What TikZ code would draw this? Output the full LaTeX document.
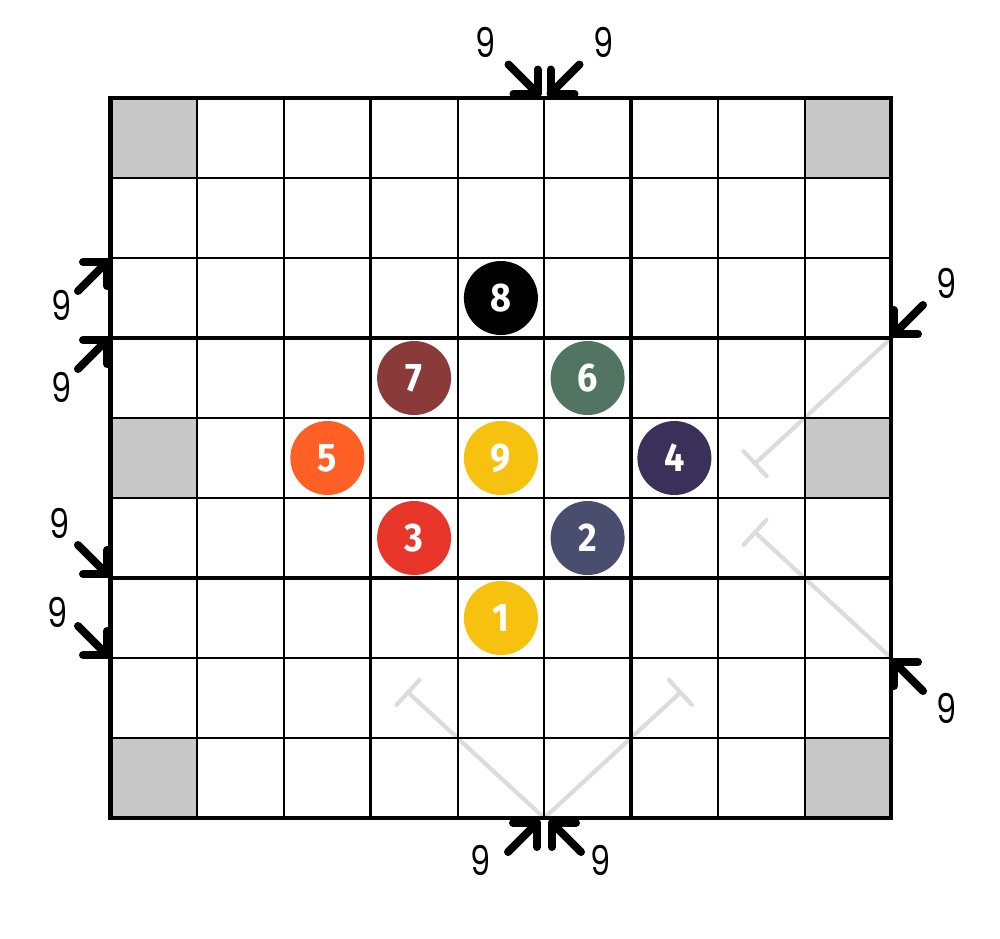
\documentclass[tikz,border=0pt]{standalone}
\usepackage{fontspec}
\usepackage{graphicx}
\setmainfont{Poppins}
\newfontfamily\ballfont{Fira Sans}
\usetikzlibrary{calc}
\definecolor{cellgray}{HTML}{C8C8C8}
\definecolor{linegray}{HTML}{DCDCDC}
\definecolor{cOne}{HTML}{F7C10F}
\definecolor{cTwo}{HTML}{4A4E6E}
\definecolor{cThree}{HTML}{E8352A}
\definecolor{cFour}{HTML}{3B3059}
\definecolor{cFive}{HTML}{FD5F24}
\definecolor{cSix}{HTML}{527563}
\definecolor{cSeven}{HTML}{8B3A3A}
\definecolor{cEight}{HTML}{000000}
\newcommand{\balltxt}[1]{\scalebox{0.9}[1]{#1}}
\newcommand{\cluetxt}[1]{\scalebox{0.78}[1]{#1}}
\begin{document}
\begin{tikzpicture}[x=1pt,y=-1pt,
  thingrid/.style={line width=2pt,black},
  thickgrid/.style={line width=3.2pt,black},
  outergrid/.style={line width=4.4pt,black},
  ball/.style={circle,minimum size=74pt,inner sep=0pt,text=white,
    font=\ballfont\bfseries\fontsize{40}{40}\selectfont},
  cluearrow/.style={line width=8pt,line cap=round,line join=round,black},
  cluelabel/.style={inner sep=0pt,font=\fontsize{41}{41}\selectfont},
  guide/.style={line width=4.2pt,line cap=round,linegray}]
\useasboundingbox (0,0) rectangle (1000,938);
% gray cells
\foreach \i/\j in {0/0,8/0,0/4,8/4,0/8,8/8}
  \fill[cellgray] ({110.5+86.75*\i},{98+80*\j}) rectangle ({110.5+86.75*(\i+1)},{98+80*(\j+1)});
% guide lines
\coordinate (gb) at (544.25,818);
\coordinate (gbl) at ($(gb)+(-136.2,-125.6)$);
\coordinate (gbr) at ($(gb)+(136.2,-125.6)$);
\coordinate (gru) at (891.25,338);
\coordinate (grue) at ($(gru)+(-136.2,125.6)$);
\coordinate (grd) at (891.25,658);
\coordinate (grde) at ($(grd)+(-136.2,-125.6)$);
\draw[guide] (gb) -- (gbl);
\draw[guide] ($(gbl)+(-11.5,12.5)$) -- ($(gbl)+(11.5,-12.5)$);
\draw[guide] (gb) -- (gbr);
\draw[guide] ($(gbr)+(-11.5,-12.5)$) -- ($(gbr)+(11.5,12.5)$);
\draw[guide] (gru) -- (grue);
\draw[guide] ($(grue)+(-11.5,-12.5)$) -- ($(grue)+(11.5,12.5)$);
\draw[guide] (grd) -- (grde);
\draw[guide] ($(grde)+(-11.5,12.5)$) -- ($(grde)+(11.5,-12.5)$);
% grid
\foreach \i in {1,2,4,5,7,8} {
  \draw[thingrid] ({110.5+86.75*\i},98) -- ({110.5+86.75*\i},818);
  \draw[thingrid] (110.5,{98+80*\i}) -- (891.25,{98+80*\i});
}
\foreach \i in {3,6} {
  \draw[thickgrid] ({110.5+86.75*\i},98) -- ({110.5+86.75*\i},818);
  \draw[thickgrid] (110.5,{98+80*\i}) -- (891.25,{98+80*\i});
}
\draw[outergrid] (110.5,98) rectangle (891.25,818);
% balls
\node[ball,fill=cEight] (b8) at (500.9,298) {\balltxt{8}};
\node[ball,fill=cSeven] (b7) at (414.1,378) {\balltxt{7}};
\node[ball,fill=cSix] (b6) at (587.6,378) {\balltxt{6}};
\node[ball,fill=cFive] (b5) at (327.4,458) {\balltxt{5}};
\node[ball,fill=cOne] (b9) at (500.9,458) {\balltxt{9}};
\node[ball,fill=cFour] (b4) at (674.4,458) {\balltxt{4}};
\node[ball,fill=cThree] (b3) at (414.1,538) {\balltxt{3}};
\node[ball,fill=cTwo] (b2) at (587.6,538) {\balltxt{2}};
\node[ball,fill=cOne] (b1) at (500.9,618) {\balltxt{1}};
% clue arrows: tip, tail; arms horizontal and vertical
\foreach \n/\tx/\ty/\sx/\sy in {
  tl/537.5/93.5/-1/-1, tr/550.5/93.5/1/-1,
  la/107/262/-1/1, lb/107/340/-1/1,
  lc/107/574/-1/-1, ld/107/655/-1/-1,
  ra/894/334/1/-1, rb/894/662/1/1,
  bl/537/823/-1/1, br/552/823/1/1} {
  \coordinate (tip\n) at (\tx,\ty);
  \coordinate (tail\n) at ($(tip\n)+(29*\sx,29*\sy)$);
  \draw[cluearrow] (tail\n) -- (tip\n);
  \draw[cluearrow] ($(tip\n)+(24*\sx,0)$) -- (tip\n) -- ($(tip\n)+(0,24*\sy)$);
}
% labels
\node[cluelabel] (ltl) at (486,42) {\cluetxt{9}};
\node[cluelabel] (ltr) at (604,42) {\cluetxt{9}};
\node[cluelabel] (lla) at (62,305) {\cluetxt{9}};
\node[cluelabel] (llb) at (62,387) {\cluetxt{9}};
\node[cluelabel] (llc) at (60,523) {\cluetxt{9}};
\node[cluelabel] (lld) at (58,612) {\cluetxt{9}};
\node[cluelabel] (lra) at (947,283) {\cluetxt{9}};
\node[cluelabel] (lrb) at (947,708) {\cluetxt{9}};
\node[cluelabel] (lbl) at (481,860) {\cluetxt{9}};
\node[cluelabel] (lbr) at (601,860) {\cluetxt{9}};
\end{tikzpicture}
\end{document}
